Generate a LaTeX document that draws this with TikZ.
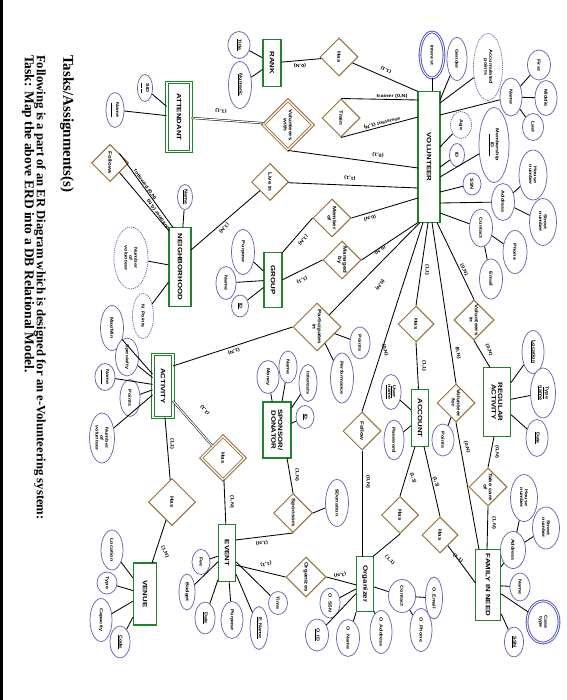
\documentclass[tikz,border=0pt]{standalone}
\usepackage{fontspec}
\setmainfont{Liberation Serif}
\newfontfamily\dsans[FakeStretch=1.25]{Liberation Sans}
\usetikzlibrary{shapes.geometric,calc}
\newcommand\dul[1]{\setbox0\hbox{#1}\vtop{\copy0\kern0.5pt\hbox to\wd0{\xleaders\hbox to 1pt{\vrule width0.6pt height0.3pt\hfil}\hfil}}}
\definecolor{entc}{RGB}{35,130,45}
\definecolor{relc}{RGB}{150,110,60}
\definecolor{attc}{RGB}{105,105,175}
\definecolor{mvc}{RGB}{75,75,190}
\tikzset{
  sz/.style 2 args={minimum height=#1pt, minimum width=#2pt},
  ent/.style={rectangle, draw=entc, line width=1.2pt, fill=white, rotate=-90, align=center, inner sep=0pt, font=\dsans\bfseries\fontsize{6.3}{6.6}\selectfont},
  wkent/.style={ent, double=white, double distance=1.3pt, line width=1pt},
  rel/.style={diamond, aspect=1, draw=relc, line width=1pt, fill=white, rotate=-90, align=center, inner sep=0pt, minimum size=#1pt, font=\dsans\bfseries\fontsize{4.9}{5.4}\selectfont},
  wkrel/.style={rel=#1, double=white, double distance=1.3pt, line width=0.9pt},
  att/.style={ellipse, draw=attc, line width=0.75pt, fill=white, rotate=-90, align=center, inner sep=0pt, font=\dsans\bfseries\fontsize{4.4}{4.9}\selectfont},
  der/.style={att, dash pattern=on 1.2pt off 0.9pt},
  mv/.style={att, draw=mvc, line width=0.9pt, double=white, double distance=0.9pt},
  lbl/.style={rotate=#1, inner sep=0pt, font=\dsans\bfseries\fontsize{4.4}{4.6}\selectfont},
  cn/.style={draw=black, line width=0.85pt},
  dcn/.style={draw=black, line width=0.5pt, double=white, double distance=1.1pt},
  txt/.style={rotate=-90, anchor=west, inner sep=0pt, font=\bfseries\fontsize{#1}{#1}\selectfont},
}
\begin{document}
\begin{tikzpicture}[x=1pt,y=-1pt]
\useasboundingbox (0,0) rectangle (566,700);
\fill[white] (0,0) rectangle (566,700);
\fill[black] (0,0) rectangle (2.5,700);

% ---------- text ----------
\node[txt=15] (ttl) at (67,55) {Tasks/Assignments(s)};
\node[txt=12.7] (tl1) at (40,55) {Following is a part of an ER Diagram which is designed for an e-Volunteering system:};
\node[txt=13.5] (tl2) at (28,55) {Task: Map the above ERD into a DB Relational Model.};

% ---------- entities ----------
\node[ent, sz={22}{131}] (vol) at (429,157) {VOLUNTEER};
\node[ent, sz={18}{47}] (rank) at (272,63) {RANK};
\node[wkent, sz={24}{69}] (att) at (179,117) {ATTENDANT};
\node[ent, sz={22}{79}] (nbh) at (180,267) {NEIGHBORHOOD};
\node[ent, sz={18}{55}] (grp) at (273,280) {GROUP};
\node[wkent, sz={20}{63}] (act) at (163,386) {ACTIVITY};
\node[ent, sz={28}{56}] (spon) at (277,430) {SPONSOR/\\DONATOR};
\node[ent, sz={17}{57}] (evt) at (227,553) {EVENT};
\node[ent, sz={23}{62}] (ven) at (145,594) {VENUE};
\node[ent, sz={17}{57}] (acc) at (420,418) {ACCOUNT};
\node[ent, sz={17}{55}] (org) at (365,584) {Organizer};
\node[ent, sz={27}{69}] (reg) at (497,402) {REGULAR\\ACTIVITY};
\node[ent, sz={25}{71}] (fam) at (488,585) {FAMILY IN NEED};

% ---------- relationships ----------
\node[rel=38] (hasrank) at (339,57) {Has};
\node[rel=38] (train) at (341,118) {Train};
\node[wkrel=50] (volwith) at (288,125) {Volunteers\\with};
\node[rel=37] (livein) at (270,182) {Live in};
\node[rel=38] (memberof) at (332,218) {Member\\of};
\node[rel=38] (managedby) at (342,260) {Managed\\by};
\node[rel=37] (follows) at (110,163) {Follows};
\node[rel=48] (partin) at (317,327) {Participates\\in};
\node[wkrel=44] (hasae) at (223,458) {Has};
\node[rel=47] (hasav) at (172,502) {Has};
\node[rel=39] (sponsors) at (293,513) {Sponsors};
\node[rel=40] (organizes) at (306,577) {Organizes};
\node[rel=38] (follow) at (362,431) {Follow};
\node[rel=36] (hasacc) at (416,324) {Has};
\node[rel=38] (volfor) at (456,403) {Volunteer\\for};
\node[rel=40] (volin) at (474,320) {Volunteers\\in};
\node[rel=37] (hasao) at (400,515) {Has};
\node[rel=36] (hasaf) at (440,535) {Has};
\node[rel=38] (takecare) at (488,487) {Take care\\of};

% ---------- attributes ----------
\node[mv, sz={24}{46}] (interest) at (432,55) {Interest};
\node[att, sz={20}{43}] (gender) at (457,59) {Gender};
\node[der, sz={29}{67}] (accum) at (488,67) {Accumulated\\points};
\node[att, sz={22}{38}] (vname) at (511,97) {Name};
\node[att, sz={23}{30}] (first) at (539,65) {First};
\node[att, sz={22}{35}] (middle) at (546,98) {Middle};
\node[att, sz={21}{27}] (last) at (533,127) {Last};
\node[der, sz={21}{27}] (age) at (461,125) {Age};
\node[att, sz={30}{75}] (memb) at (494,145) {Membership\\\underline{\makebox[22pt]{ID}}};
\node[att, sz={15}{23}] (vid) at (457,155) {ID};
\node[att, sz={18}{22}] (vssn) at (472,184) {SSN};
\node[att, sz={28}{50}] (vhouse) at (533,175) {House\\number};
\node[att, sz={23}{37}] (vaddr) at (503,202) {Address};
\node[att, sz={27}{47}] (vstreet) at (543,222) {Street\\number};
\node[att, sz={23}{38}] (vcont) at (481,228) {Contact};
\node[att, sz={24}{43}] (vphone) at (515,252) {Phone};
\node[att, sz={23}{40}] (vemail) at (491,279) {Email};
\node[att, sz={22}{27}] (title) at (239,45) {\underline{Title}};
\node[att, sz={23}{47}] (numeric) at (240,85) {\underline{Numeric}};
\node[att, sz={15}{27}] (sid) at (145,88) {\dul{SID}};
\node[att, sz={18}{35}] (aname) at (115,110) {\dul{Name}};
\node[att, sz={15}{25}] (nname) at (185,197) {\underline{Name}};
\node[der, sz={34}{62}] (nnum) at (131,258) {Number\\of\\volunteer};
\node[der, sz={21}{45}] (npts) at (143,316) {N\_Points};
\node[att, sz={23}{45}] (purpose) at (243,252) {Purpose};
\node[att, sz={20}{33}] (gname) at (226,283) {Name};
\node[att, sz={17}{22}] (gid) at (240,306) {\underline{ID}};
\node[att, sz={20}{32}] (ppoints) at (360,343) {Points};
\node[att, sz={23}{50}] (perf) at (342,378) {Performance};
\node[att, sz={22}{33}] (money) at (268,377) {Money};
\node[att, sz={18}{32}] (sname) at (288,367) {Name};
\node[att, sz={18}{37}] (sint) at (308,383) {Interests};
\node[att, sz={18}{23}] (sid2) at (305,417) {\underline{ID}};
\node[att, sz={23}{45}] (maxmin) at (112,328) {Max/Min};
\node[att, sz={23}{38}] (spec) at (127,357) {Specialty};
\node[att, sz={20}{27}] (actname) at (105,377) {\dul{Name}};
\node[att, sz={20}{37}] (apts) at (130,398) {Points};
\node[att, sz={25}{50}] (anum) at (102,438) {Number\\of\\volunteer};
\node[att, sz={22}{40}] (loc) at (112,550) {Location};
\node[att, sz={20}{22}] (vtype) at (107,583) {Type};
\node[att, sz={22}{43}] (capac) at (101,620) {Capacity};
\node[att, sz={20}{32}] (code) at (120,642) {\underline{Code}};
\node[att, sz={18}{25}] (fee) at (201,562) {Fee};
\node[att, sz={16}{36}] (budget) at (187,592) {Budget};
\node[att, sz={20}{32}] (edate) at (205,618) {\underline{Date}};
\node[att, sz={22}{37}] (epurp) at (232,620) {Purpose};
\node[att, sz={18}{43}] (ename) at (259,628) {\underline{E\_Name}};
\node[att, sz={19}{23}] (etime) at (278,603) {Time};
\node[att, sz={23}{47}] (donation) at (337,503) {\$Donation};
\node[att, sz={20}{30}] (ossn) at (330,603) {O\_SSN};
\node[att, sz={23}{32}] (oid) at (317,635) {\underline{O\_ID}};
\node[att, sz={23}{37}] (oname) at (348,638) {O\_Name};
\node[att, sz={22}{43}] (oaddr) at (381,632) {O\_Address};
\node[att, sz={27}{33}] (ocont) at (402,596) {Contact};
\node[att, sz={17}{42}] (oemail) at (434,598) {O\_Email};
\node[att, sz={22}{43}] (ophone) at (421,630) {O\_Phone};
\node[att, sz={20}{35}] (uname) at (391,392) {\underline{User}\\\underline{name}};
\node[att, sz={20}{40}] (pwd) at (394,440) {Password};
\node[att, sz={22}{32}] (vfpts) at (443,440) {Points};
\node[att, sz={22}{43}] (rloc) at (533,352) {\underline{Location}};
\node[att, sz={25}{50}] (rtype) at (543,393) {\underline{Type}\\\underline{name}};
\node[att, sz={22}{37}] (rdate) at (537,438) {\underline{Date}};
\node[att, sz={27}{47}] (fhouse) at (524,498) {House\\number};
\node[att, sz={27}{42}] (fstreet) at (546,528) {Street\\number};
\node[att, sz={25}{37}] (faddr) at (513,550) {Address};
\node[att, sz={20}{28}] (fname) at (520,587) {Name};
\node[mv, sz={32}{42}] (fcase) at (543,622) {Case\\type};
\node[att, sz={19}{30}] (fssn) at (514,642) {\underline{SSN}};

% ---------- connectors ----------
\begin{scope}[cn]
\draw ($(vol.center)+(3,-65.5)$) -- (interest);
\draw ($(vol.center)+(11,-57)$) -- (gender);
\draw ($(vol.center)+(11,-54)$) -- (accum);
\draw ($(vol.center)+(11,-42)$) -- (vname);
\draw (vname) -- (first);
\draw (vname) -- (middle);
\draw (vname) -- (last);
\draw ($(vol.center)+(11,-10)$) -- (age);
\draw ($(vol.center)+(11,10)$) -- (vid);
\draw ($(vol.center)+(11,20)$) -- (memb);
\draw ($(vol.center)+(11,35)$) -- (vssn);
\draw ($(vol.center)+(11,46)$) -- (vaddr);
\draw ($(vol.center)+(11,56)$) -- (vcont);
\draw (vaddr) -- (vhouse);
\draw (vaddr) -- (vstreet);
\draw (vcont) -- (vphone);
\draw (vcont) -- (vemail);
\draw (hasrank) -- ($(vol.center)+(-11,-65.5)$);
\draw (hasrank) -- (rank);
\draw (rank) -- (title);
\draw (rank) -- (numeric);
\draw (train.west) -- ($(vol.center)+(-11,-57)$);
\draw (train.east) -- ($(vol.center)+(-11,-40)$);
\draw (volwith.east) -- ($(vol.center)+(-11,11)$);
\draw (att) -- (sid);
\draw (att) -- (aname);
\draw (livein) -- ($(vol.center)+(-11,31)$);
\draw (livein) -- ($(nbh.center)+(11,-17)$);
\draw ($(follows.north)!0.5!(follows.west)$) -- ($(nbh.center)+(-7,-39.5)$);
\draw ($(follows.north)!0.5!(follows.east)$) -- ($(nbh.center)+(-11,-36)$);
\draw (nbh) -- (nname);
\draw (nbh) -- (nnum);
\draw (nbh) -- (npts);
\draw (memberof.north) -- ($(vol.center)+(-11,41)$);
\draw (memberof.south) -- ($(grp.center)+(9,-27)$);
\draw (managedby.north) -- ($(vol.center)+(-11,65.5)$);
\draw (managedby.south) -- ($(grp.center)+(9,0)$);
\draw (grp) -- (purpose);
\draw (grp) -- (gname);
\draw (grp) -- (gid);
\draw ($(partin.north)!0.5!(partin.west)$) -- ($(vol.center)+(-9,65.5)$);
\draw (partin.south) -- ($(act.center)+(10,-20)$);
\draw (partin) -- (ppoints);
\draw (partin) -- (perf);
\draw (spon) -- (money);
\draw (spon) -- (sname);
\draw (spon) -- (sint);
\draw (spon) -- (sid2);
\draw (hasae) -- (evt);
\draw (act) -- (maxmin);
\draw (act) -- (spec);
\draw (act) -- (actname);
\draw (act) -- (apts);
\draw (act) -- (anum);
\draw ($(act.center)+(2,31.5)$) -- (hasav);
\draw (hasav) -- ($(ven.center)+(7,-31)$);
\draw (ven) -- (loc);
\draw (ven) -- (vtype);
\draw (ven) -- (capac);
\draw (ven) -- (code);
\draw (sponsors.west) -- ($(spon.center)+(10,28)$);
\draw (sponsors.east) -- ($(evt.center)+(8.5,-13)$);
\draw (sponsors.north) -- (donation);
\draw ($(evt.center)+(8.5,12)$) -- (organizes.south);
\draw (organizes.north) -- ($(org.center)+(-8.5,1)$);
\draw (evt) -- (fee);
\draw (evt) -- (budget);
\draw (evt) -- (edate);
\draw (evt) -- (epurp);
\draw (evt) -- (ename);
\draw (evt) -- (etime);
\draw (follow.west) -- ($(vol.center)+(-6,65.5)$);
\draw (follow.east) -- ($(org.center)+(-3,-27.5)$);
\draw (org) -- (ossn);
\draw (org) -- (oid);
\draw (org) -- (oname);
\draw (org) -- (oaddr);
\draw (org) -- (ocont);
\draw (ocont) -- (oemail);
\draw (ocont) -- (ophone);
\draw ($(vol.center)+(-1,65.5)$) -- (hasacc.west);
\draw (hasacc.east) -- (acc);
\draw (acc) -- (uname);
\draw (acc) -- (pwd);
\draw ($(acc.center)+(-5,28.5)$) -- (hasao.west);
\draw (hasao.east) -- ($(org.center)+(8,-27.5)$);
\draw ($(acc.center)+(4,28.5)$) -- (hasaf.west);
\draw (hasaf) -- ($(fam.center)+(-12.5,-2)$);
\draw ($(vol.center)+(3,65.5)$) -- (volfor.west);
\draw (volfor.east) -- ($(fam.center)+(-9,-35.5)$);
\draw (volfor) -- (vfpts);
\draw ($(vol.center)+(8,65.5)$) -- (volin.west);
\draw (volin.east) -- ($(reg.center)+(-7,-34.5)$);
\draw (reg) -- (rloc);
\draw (reg) -- (rtype);
\draw (reg) -- (rdate);
\draw ($(reg.center)+(-3,34.5)$) -- (takecare.west);
\draw (takecare.east) -- ($(fam.center)+(-1,-35.5)$);
\draw (fam) -- (faddr);
\draw (faddr) -- (fhouse);
\draw (faddr) -- (fstreet);
\draw (fam) -- (fname);
\draw (fam) -- (fcase);
\draw (fam) -- (fssn);
\end{scope}
\draw[dcn] (att) -- (volwith);
\draw[dcn] ($(act.center)+(10,15)$) -- (hasae);

% ---------- cardinality labels ----------
\node[lbl=151] (l1) at (386,70) {(1,1)};
\node[lbl=180] (l2) at (300,66) {(0,N)};
\node[lbl=0] (l3) at (392,96) {trainer (0,N)};
\node[lbl=194] (l4) at (382,123) {assistant (1,N)};
\node[lbl=172] (l5) at (378,155) {(0,1)};
\node[lbl=170] (l6) at (221,111) {(1,1)};
\node[lbl=177] (l7) at (350,178) {(1,1)};
\node[lbl=228] (l8) at (224,228) {(1,N)};
\node[lbl=195] (l9) at (370,218) {(0,N)};
\node[lbl=229] (l10) at (303,240) {(1,N)};
\node[lbl=211] (l11) at (380,250) {(0,N)};
\node[lbl=204] (l12) at (302,280) {(1,1)};
\node[lbl=235] (l13) at (380,285) {(0,N)};
\node[lbl=198] (l14) at (234,351) {(1,N)};
\node[lbl=131] (l15) at (205,410) {(1,1)};
\node[lbl=-90] (l16) at (232,502) {(1,N)};
\node[lbl=-90] (l17) at (172,444) {(1,1)};
\node[lbl=-65] (l18) at (165,552) {(1,N)};
\node[lbl=-90] (l19) at (297,475) {(1,N)};
\node[lbl=188] (l20) at (262,543) {(1,N)};
\node[lbl=190] (l21) at (266,564) {(1,1)};
\node[lbl=190] (l22) at (340,575) {(1,N)};
\node[lbl=-90] (l23) at (368,482) {(0,N)};
\node[lbl=-75] (l24) at (385,350) {(0,N)};
\node[lbl=-90] (l25) at (427,270) {(1,1)};
\node[lbl=-90] (l26) at (424,366) {(1,1)};
\node[lbl=-80] (l27) at (458,353) {(0,N)};
\node[lbl=-75] (l28) at (467,447) {(0,N)};
\node[lbl=-65] (l29) at (464,270) {(0,N)};
\node[lbl=-70] (l30) at (489,350) {(0,N)};
\node[lbl=-90] (l31) at (497,452) {(0,N)};
\node[lbl=-90] (l32) at (494,523) {(1,N)};
\node[lbl=-70] (l33) at (413,478) {(1,1)};
\node[lbl=-45] (l34) at (390,560) {(1,1)};
\node[lbl=-70] (l35) at (436,482) {(1,1)};
\node[lbl=-40] (l36) at (458,558) {(1,1)};
\node[lbl=-55] (l37) at (145,185) {followed (0,N)};
\node[lbl=125] (l38) at (158,214) {follower (0,N)};
\end{tikzpicture}
\end{document}
